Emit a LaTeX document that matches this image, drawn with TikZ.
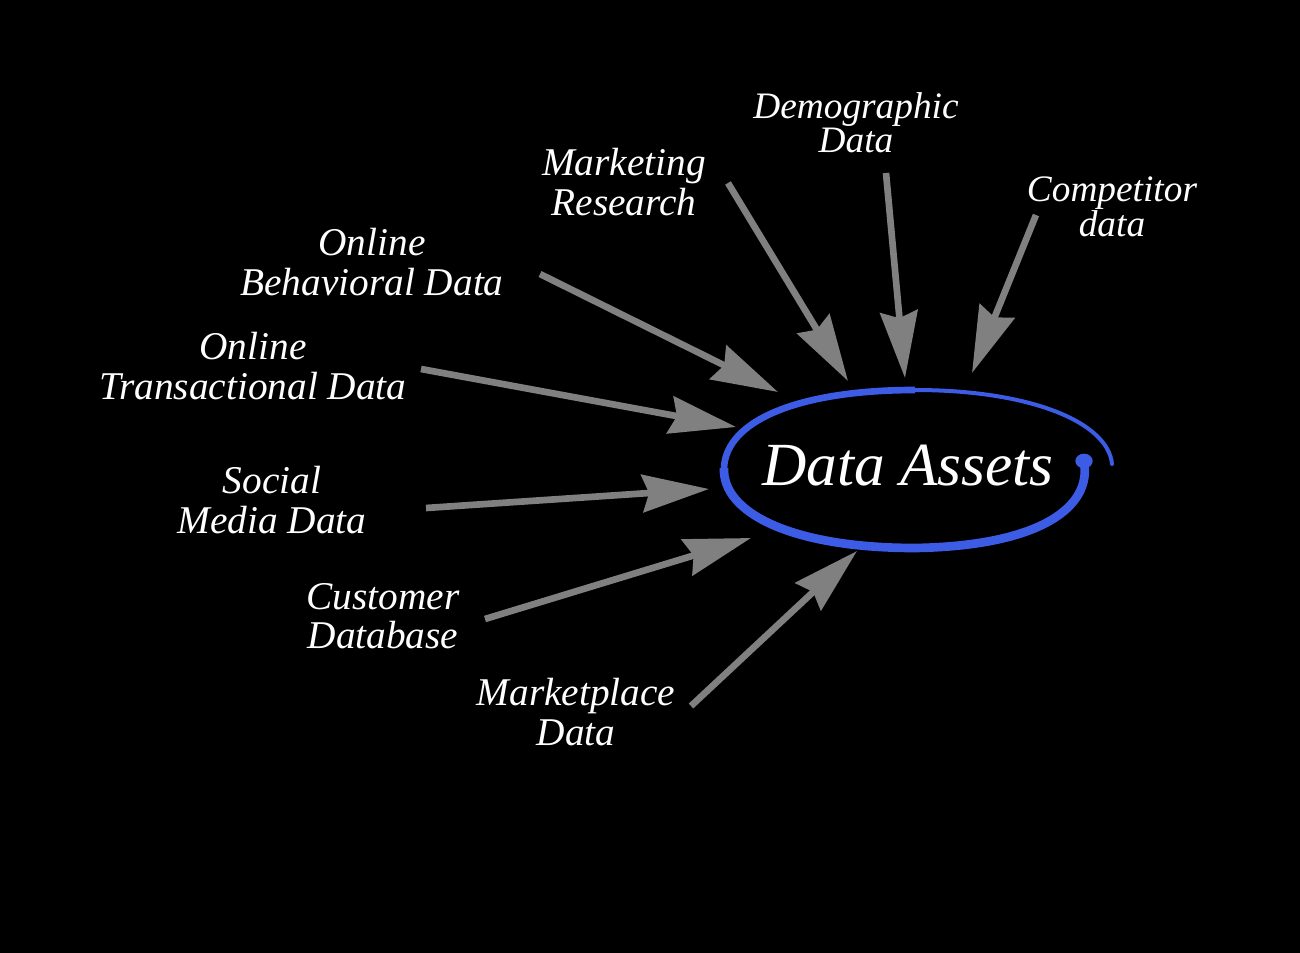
\documentclass[tikz,border=0pt]{standalone}
\usepackage{fontspec}
\setmainfont{Liberation Serif}
\usetikzlibrary{arrows.meta}
\definecolor{arrowgray}{RGB}{128,128,128}
\definecolor{ringblue}{RGB}{60,92,230}
\tikzset{
  lbl/.style={text=white, align=center, inner sep=0pt, font=\fontsize{29.5}{29.5}\selectfont\itshape},
  lbltight/.style={lbl, font=\fontsize{28}{22}\selectfont\itshape},
  feed/.style={draw=arrowgray, line width=5pt, -{Stealth[length=50pt, width=28pt, inset=5pt]}},
  ring/.style={draw=ringblue}
}
\begin{document}
\begin{tikzpicture}[x=0.75pt, y=-0.75pt]
\fill[black] (0,0) rectangle (1300,953);
\useasboundingbox (0,0) rectangle (1300,953);

% central ring
\draw[ring, line width=6.5pt] (1084,462) .. controls (1092,507) and (1040,546) .. (915,548)
   .. controls (790,548) and (722,512) .. (724,468);
\draw[ring, line width=5pt] (724,468) .. controls (726,420) and (800,390) .. (915,390);
\draw[ring, line width=3pt, line cap=round] (915,390) .. controls (1030,390) and (1108,422) .. (1112,464);
\fill[ringblue] (1084,461) ellipse (6.5pt and 5.5pt);
\node[text=white, inner sep=0pt, font=\fontsize{46}{50}\selectfont\itshape] (assets) at (908,466) {Data Assets};

% labels
\node[lbltight] (demo) at (856,123) {Demographic\\Data};
\node[lbl] (mres) at (624,182) {Marketing\\Research};
\node[lbltight] (comp) at (1112,207) {Competitor\\data};
\node[lbl] (obd) at (372,262) {Online\\Behavioral Data};
\node[lbl] (otd) at (253,366) {Online\\Transactional Data};
\node[lbl] (smd) at (272,500) {Social\\Media Data};
\node[lbl] (cdb) at (383,616) {Customer\\Database};
\node[lbl] (mpd) at (576,712) {Marketplace\\Data};

% arrow ends
\coordinate (obdS) at (540,274);  \coordinate (obdT) at (778,392);
\coordinate (otdS) at (421,369);  \coordinate (otdT) at (736,427);
\coordinate (smdS) at (426,508);  \coordinate (smdT) at (709,489);
\coordinate (cdbS) at (485,619);  \coordinate (cdbT) at (751,538);
\coordinate (mpdS) at (691,706);  \coordinate (mpdT) at (857,551);
\coordinate (mresS) at (728,183); \coordinate (mresT) at (848,381);
\coordinate (demoS) at (886,173); \coordinate (demoT) at (905,378);
\coordinate (compS) at (1036,215); \coordinate (compT) at (972,373);

\draw[feed] (obdS) -- (obdT);
\draw[feed] (otdS) -- (otdT);
\draw[feed] (smdS) -- (smdT);
\draw[feed] (cdbS) -- (cdbT);
\draw[feed] (mpdS) -- (mpdT);
\draw[feed] (mresS) -- (mresT);
\draw[feed] (demoS) -- (demoT);
\draw[feed] (compS) -- (compT);
\end{tikzpicture}
\end{document}
